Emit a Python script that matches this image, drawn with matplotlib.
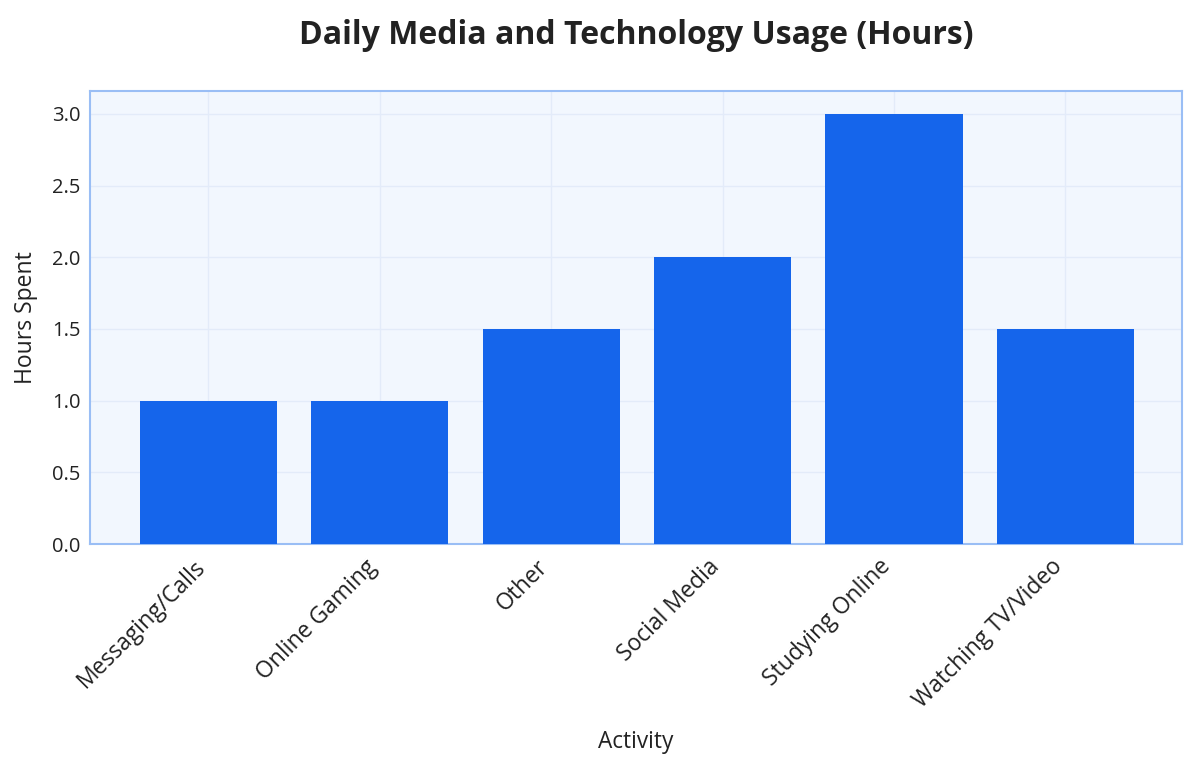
import matplotlib
matplotlib.use('Agg')
import matplotlib.pyplot as plt
from matplotlib.transforms import ScaledTranslation

activities = ['Messaging/Calls', 'Online Gaming', 'Other', 'Social Media',
              'Studying Online', 'Watching TV/Video']
hours = [1.0, 1.0, 1.5, 2.0, 3.0, 1.5]

plt.rcParams['font.family'] = ['Open Sans', 'DejaVu Sans']

bar_color = '#1565EB'
face = '#F2F7FE'
spine = '#9ABEF5'
grid_color = '#E3EBF9'
text_color = '#222222'

fig = plt.figure(figsize=(12, 7.65), dpi=100)
ax = fig.add_axes([90 / 1200, 1 - 544 / 765, (1182 - 90) / 1200, (544 - 91) / 765])
ax.set_facecolor(face)

x = list(range(len(activities)))
ax.bar(x, hours, width=0.8, color=bar_color, zorder=3)

ax.set_xlim(-0.69, 5.68)
ax.set_ylim(0, 3.16)
ax.set_yticks([0, 0.5, 1.0, 1.5, 2.0, 2.5, 3.0])
ax.set_xticks(x)
ax.set_xticklabels(activities, rotation=45, ha='right', rotation_mode='anchor')
ax.tick_params(axis='y', length=0, labelsize=14.5, colors=text_color, pad=7)
ax.tick_params(axis='x', length=0, labelsize=16.5, colors=text_color, pad=10)

# nudge rotated labels so they end under the bar centre
shift = ScaledTranslation(-0.15, 0.03, fig.dpi_scale_trans)
for lbl in ax.get_xticklabels():
    lbl.set_transform(lbl.get_transform() + shift)

ax.grid(True, color=grid_color, linewidth=1, zorder=0)
for s in ax.spines.values():
    s.set_color(spine)
    s.set_linewidth(1.5)

ax.set_xlabel('Activity', fontsize=16.3, color=text_color, labelpad=12)
ax.set_ylabel('Hours Spent', fontsize=16.5, color=text_color, labelpad=10)
fig.text(0.53, 1 - 36 / 765, 'Daily Media and Technology Usage (Hours)',
         ha='center', va='center', fontsize=23, fontweight='bold', color=text_color)

fig.savefig('out.png', dpi=100)
